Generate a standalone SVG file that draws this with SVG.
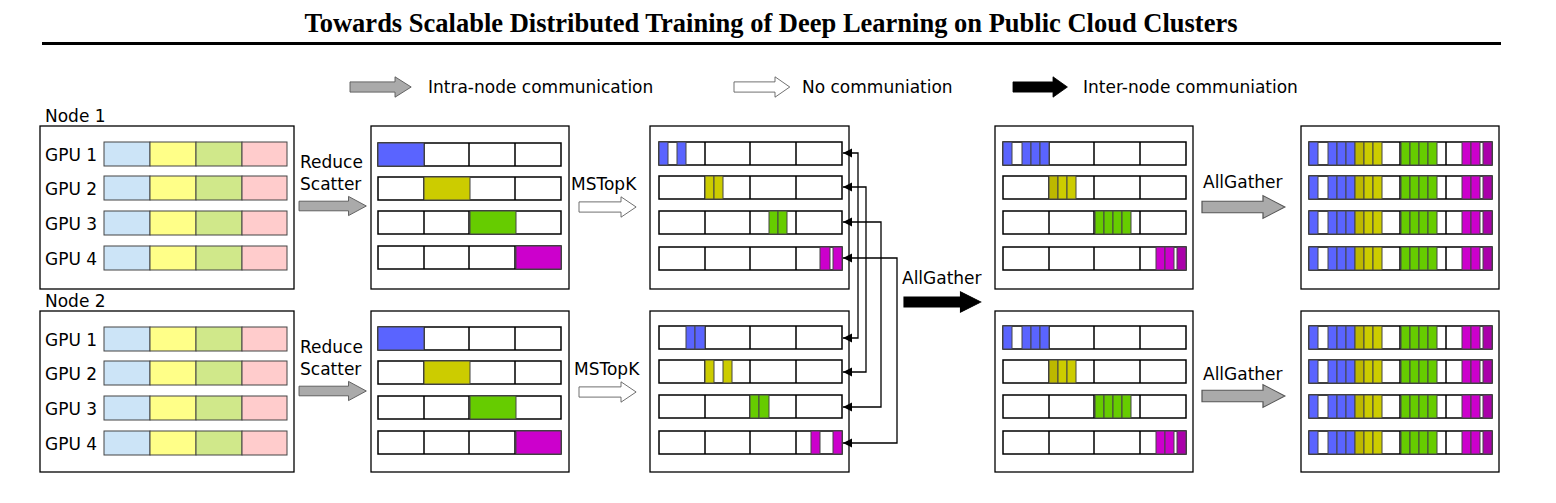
<svg xmlns="http://www.w3.org/2000/svg" xmlns:xlink="http://www.w3.org/1999/xlink" width="1556" height="503" viewBox="0 0 1556 503">
<style>
text{font-family:"DejaVu Sans",sans-serif;font-size:17px;fill:#000}
.box{fill:#fff;stroke:#000;stroke-width:1.3}
.seg{stroke:#000;stroke-width:1.5;fill:none}
.b{stroke:#444;stroke-width:1}
.lb{fill:#cce4f7}.ly{fill:#ffff88}.lg{fill:#d0e88a}.lp{fill:#ffcccc}
.B{fill:#5a64ff}.Y{fill:#cccc00}.O{fill:#bdb800}.G{fill:#66cc00}.M{fill:#cc00cc}.P{fill:#aa00aa}
.conn{stroke:#000;stroke-width:1.3;fill:none}
</style>
<defs>
<g id="bar"><rect x="0" y="0" width="183" height="23" fill="#fff" stroke="#000" stroke-width="1.5"/><path class="seg" d="M46,0V23M91,0V23M137,0V23"/></g>
<g id="crow"><rect class="b lb" x="0" y="0" width="46" height="24"/><rect class="b ly" x="46" y="0" width="46" height="24"/><rect class="b lg" x="92" y="0" width="46" height="24"/><rect class="b lp" x="138" y="0" width="45" height="24"/></g>
<path id="arr" d="M0,-6H50V-12L68,0L50,12V6H0Z"/>
<g id="r4row1"><use xlink:href="#bar"/><rect class="b B" x="0" width="9" height="23"/><rect class="b B" x="19" width="9" height="23"/><rect class="b B" x="28" width="9" height="23"/><rect class="b B" x="37" width="9" height="23"/></g>
<g id="r4row2"><use xlink:href="#bar"/><rect class="b O" x="46" width="9" height="23"/><rect class="b Y" x="55" width="9" height="23"/><rect class="b Y" x="64" width="9" height="23"/></g>
<g id="r4row3"><use xlink:href="#bar"/><rect class="b G" x="92" width="9" height="23"/><rect class="b G" x="101" width="9" height="23"/><rect class="b G" x="110" width="9" height="23"/><rect class="b G" x="119" width="9" height="23"/></g>
<g id="r4row4"><use xlink:href="#bar"/><rect class="b M" x="153" width="9" height="23"/><rect class="b M" x="162" width="9" height="23"/><rect class="b P" x="174" width="9" height="23"/></g>
<g id="r5row"><use xlink:href="#bar"/>
<rect class="b B" x="0" width="9" height="23"/><rect class="b B" x="19" width="9" height="23"/><rect class="b B" x="28" width="9" height="23"/><rect class="b B" x="37" width="9" height="23"/>
<rect class="b O" x="46" width="9" height="23"/><rect class="b Y" x="55" width="9" height="23"/><rect class="b Y" x="64" width="9" height="23"/>
<rect class="b G" x="92" width="9" height="23"/><rect class="b G" x="101" width="9" height="23"/><rect class="b G" x="110" width="9" height="23"/><rect class="b G" x="119" width="9" height="23"/>
<rect class="b M" x="153" width="9" height="23"/><rect class="b M" x="162" width="9" height="23"/><rect class="b P" x="174" width="9" height="23"/></g>
<marker id="ah" viewBox="0 0 10 10" refX="10" refY="5" markerWidth="7" markerHeight="7" orient="auto-start-reverse"><path d="M0,0L10,5L0,10Z" fill="#000"/></marker>
</defs>

<text x="771" y="32" text-anchor="middle" style="font-family:'Liberation Serif',serif;font-weight:bold;font-size:26.5px">Towards Scalable Distributed Training of Deep Learning on Public Cloud Clusters</text>
<rect x="42" y="42" width="1459" height="3" fill="#000"/>

<g id="legend">
<use xlink:href="#arr" transform="translate(350,87) scale(0.9,0.85)" fill="#aaa" stroke="#555"/>
<text x="428" y="93">Intra-node communication</text>
<use xlink:href="#arr" transform="translate(734,87) scale(0.82,0.85)" fill="#fff" stroke="#555"/>
<text x="802" y="93">No communiation</text>
<use xlink:href="#arr" transform="translate(1013,87) scale(0.8,0.85)" fill="#000" stroke="#000"/>
<text x="1083" y="93">Inter-node communiation</text>
</g>

<g id="node1">
<text x="45" y="122">Node 1</text>
<rect class="box" x="40" y="126" width="254" height="163"/>
<text x="45" y="161">GPU 1</text><text x="45" y="195">GPU 2</text><text x="45" y="230">GPU 3</text><text x="45" y="265">GPU 4</text>
<use xlink:href="#crow" x="104" y="142"/><use xlink:href="#crow" x="104" y="176"/><use xlink:href="#crow" x="104" y="211"/><use xlink:href="#crow" x="104" y="246"/>
</g>
<g id="node2">
<text x="45" y="307">Node 2</text>
<rect class="box" x="40" y="311" width="254" height="161"/>
<text x="45" y="346">GPU 1</text><text x="45" y="380">GPU 2</text><text x="45" y="415">GPU 3</text><text x="45" y="450">GPU 4</text>
<use xlink:href="#crow" x="104" y="327"/><use xlink:href="#crow" x="104" y="361"/><use xlink:href="#crow" x="104" y="396"/><use xlink:href="#crow" x="104" y="431"/>
</g>

<g id="rs1">
<text x="300" y="168">Reduce</text><text x="300" y="190">Scatter</text>
<use xlink:href="#arr" transform="translate(299,206) scale(0.99,0.8)" fill="#aaa" stroke="#555"/>
</g>
<g id="rs2">
<text x="300" y="353">Reduce</text><text x="300" y="375">Scatter</text>
<use xlink:href="#arr" transform="translate(299,391) scale(0.99,0.8)" fill="#aaa" stroke="#555"/>
</g>

<g id="p2n1">
<rect class="box" x="371" y="126" width="198" height="163"/>
<use xlink:href="#bar" x="378" y="143"/><use xlink:href="#bar" x="378" y="177"/><use xlink:href="#bar" x="378" y="211"/><use xlink:href="#bar" x="378" y="246"/>
<rect class="B" x="378" y="143" width="46" height="23" stroke="#444"/><rect class="Y" x="424" y="177" width="46" height="23" stroke="#444"/><rect class="G" x="470" y="211" width="46" height="23" stroke="#444"/><rect class="M" x="516" y="246" width="45" height="23" stroke="#444"/>
</g>
<g id="p2n2">
<rect class="box" x="371" y="311" width="198" height="161"/>
<use xlink:href="#bar" x="378" y="327"/><use xlink:href="#bar" x="378" y="361"/><use xlink:href="#bar" x="378" y="396"/><use xlink:href="#bar" x="378" y="431"/>
<rect class="B" x="378" y="327" width="46" height="23" stroke="#444"/><rect class="Y" x="424" y="361" width="46" height="23" stroke="#444"/><rect class="G" x="470" y="396" width="46" height="23" stroke="#444"/><rect class="M" x="516" y="431" width="45" height="23" stroke="#444"/>
</g>

<g id="mst1"><text x="571" y="190">MSTopK</text><use xlink:href="#arr" transform="translate(579,207) scale(0.84,0.85)" fill="#fff" stroke="#555"/></g>
<g id="mst2"><text x="574" y="375">MSTopK</text><use xlink:href="#arr" transform="translate(579,392) scale(0.84,0.85)" fill="#fff" stroke="#555"/></g>

<g id="p3n1">
<rect class="box" x="650" y="126" width="199" height="163"/>
<use xlink:href="#bar" x="659" y="142"/><use xlink:href="#bar" x="659" y="176"/><use xlink:href="#bar" x="659" y="211"/><use xlink:href="#bar" x="659" y="247"/>
<rect class="b B" x="659" y="142" width="9" height="23"/><rect class="b B" x="677" y="142" width="9" height="23"/>
<rect class="b Y" x="705" y="176" width="9" height="23"/><rect class="b Y" x="714" y="176" width="9" height="23"/>
<rect class="b G" x="769" y="211" width="9" height="23"/><rect class="b G" x="778" y="211" width="9" height="23"/>
<rect class="b M" x="820" y="247" width="10" height="23"/><rect class="b M" x="833" y="247" width="9" height="23"/>
</g>
<g id="p3n2">
<rect class="box" x="650" y="311" width="199" height="161"/>
<use xlink:href="#bar" x="659" y="326"/><use xlink:href="#bar" x="659" y="360"/><use xlink:href="#bar" x="659" y="395"/><use xlink:href="#bar" x="659" y="431"/>
<rect class="b B" x="686" y="326" width="9" height="23"/><rect class="b B" x="695" y="326" width="10" height="23"/>
<rect class="b Y" x="705" y="360" width="9" height="23"/><rect class="b Y" x="723" y="360" width="9" height="23"/>
<rect class="b G" x="750" y="395" width="9" height="23"/><rect class="b G" x="759" y="395" width="10" height="23"/>
<rect class="b M" x="811" y="431" width="9" height="23"/><rect class="b M" x="833" y="431" width="9" height="23"/>
</g>

<g id="connectors">
<path class="conn" d="M843,153H858V338H843" marker-start="url(#ah)" marker-end="url(#ah)"/>
<path class="conn" d="M843,187H866V372H843" marker-start="url(#ah)" marker-end="url(#ah)"/>
<path class="conn" d="M843,222H881V407H843" marker-start="url(#ah)" marker-end="url(#ah)"/>
<path class="conn" d="M843,258H897V443H843" marker-start="url(#ah)" marker-end="url(#ah)"/>
</g>

<g id="ag-inter"><text x="902" y="284">AllGather</text><use xlink:href="#arr" transform="translate(904,302) scale(1.13,0.85)" fill="#000" stroke="#000"/></g>

<g id="p4n1">
<rect class="box" x="995" y="126" width="198" height="163"/>
<use xlink:href="#r4row1" x="1003" y="142"/><use xlink:href="#r4row2" x="1003" y="176"/><use xlink:href="#r4row3" x="1003" y="211"/><use xlink:href="#r4row4" x="1003" y="247"/>
</g>
<g id="p4n2">
<rect class="box" x="995" y="311" width="198" height="161"/>
<use xlink:href="#r4row1" x="1003" y="326"/><use xlink:href="#r4row2" x="1003" y="360"/><use xlink:href="#r4row3" x="1003" y="395"/><use xlink:href="#r4row4" x="1003" y="431"/>
</g>

<g id="ag1"><text x="1203" y="188">AllGather</text><use xlink:href="#arr" transform="translate(1202,207) scale(1.22,0.95)" fill="#aaa" stroke="#555"/></g>
<g id="ag2"><text x="1203" y="380">AllGather</text><use xlink:href="#arr" transform="translate(1202,396) scale(1.22,0.95)" fill="#aaa" stroke="#555"/></g>

<g id="p5n1">
<rect class="box" x="1301" y="126" width="198" height="163"/>
<use xlink:href="#r5row" x="1309" y="142"/><use xlink:href="#r5row" x="1309" y="176"/><use xlink:href="#r5row" x="1309" y="211"/><use xlink:href="#r5row" x="1309" y="247"/>
</g>
<g id="p5n2">
<rect class="box" x="1301" y="311" width="198" height="161"/>
<use xlink:href="#r5row" x="1309" y="326"/><use xlink:href="#r5row" x="1309" y="360"/><use xlink:href="#r5row" x="1309" y="395"/><use xlink:href="#r5row" x="1309" y="431"/>
</g>
</svg>
